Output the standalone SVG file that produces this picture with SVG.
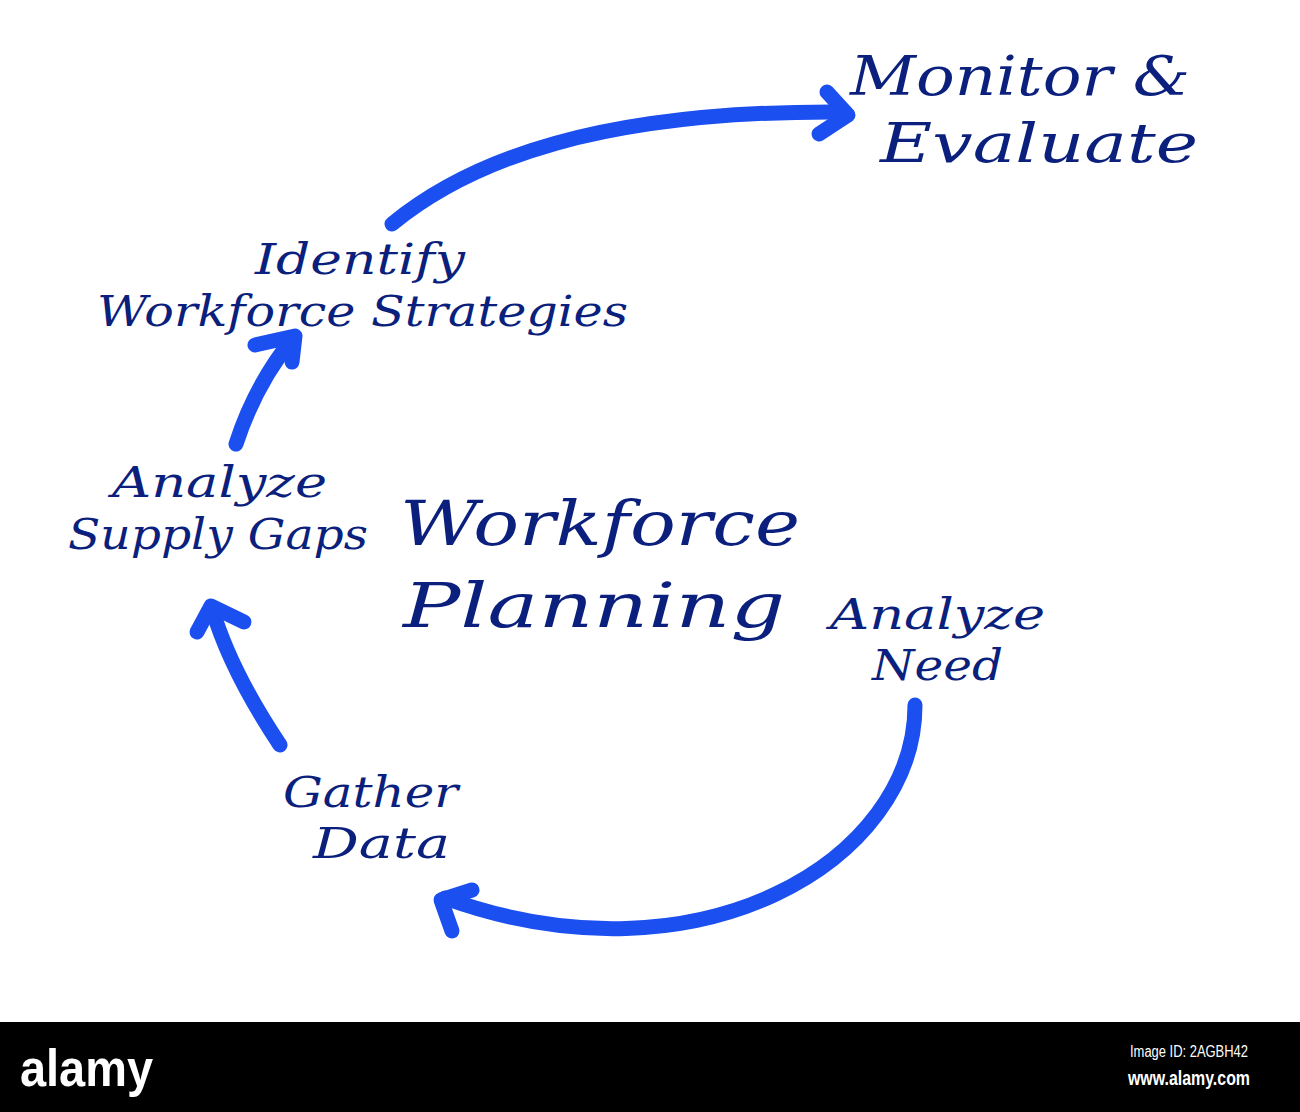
<svg xmlns="http://www.w3.org/2000/svg" width="1300" height="1112" viewBox="0 0 1300 1112">
<style>
.lbl{font-family:"DejaVu Serif","Liberation Serif",serif;font-style:italic;fill:#0b1f7d;}
.s{font-size:42px;}
.b{font-size:62px;}
.m{font-size:54px;}
.arr{fill:none;stroke:#1b4ff0;stroke-width:15;stroke-linecap:round;stroke-linejoin:round;}
</style>
<rect width="1300" height="1112" fill="#ffffff"/>
<g id="connectors">
<path class="arr" d="M392,224 C470,160 600,110 845,112"/>
<path class="arr" d="M827,92 L848,115 L819,134"/>
<path class="arr" d="M236,444 Q255,385 293,338"/>
<path class="arr" d="M255,345 L295,336 L292,362"/>
<path class="arr" d="M280,745 Q230,670 212,608"/>
<path class="arr" d="M197,632 L211,606 L244,622"/>
<path class="arr" d="M915,705 C915,860 700,990 445,898"/>
<path class="arr" d="M472,890 L441,900 L452,931"/>
</g>
<g id="node-monitor">
<text class="lbl m" x="850" y="95" textLength="340" lengthAdjust="spacingAndGlyphs">Monitor &amp;</text>
<text class="lbl m" x="880" y="162" textLength="318" lengthAdjust="spacingAndGlyphs">Evaluate</text>
</g>
<g id="node-identify">
<text class="lbl s" x="255" y="274" textLength="210" lengthAdjust="spacingAndGlyphs">Identify</text>
<text class="lbl s" x="97" y="326" textLength="531" lengthAdjust="spacingAndGlyphs">Workforce Strategies</text>
</g>
<g id="node-supply">
<text class="lbl s" x="112" y="497" textLength="215" lengthAdjust="spacingAndGlyphs">Analyze</text>
<text class="lbl s" x="68" y="549" textLength="300" lengthAdjust="spacingAndGlyphs">Supply Gaps</text>
</g>
<g id="node-center">
<text class="lbl b" x="400" y="545" textLength="400" lengthAdjust="spacingAndGlyphs">Workforce</text>
<text class="lbl b" x="403" y="627" textLength="382" lengthAdjust="spacingAndGlyphs">Planning</text>
</g>
<g id="node-need">
<text class="lbl s" x="830" y="629" textLength="215" lengthAdjust="spacingAndGlyphs">Analyze</text>
<text class="lbl s" x="872" y="680" textLength="131" lengthAdjust="spacingAndGlyphs">Need</text>
</g>
<g id="node-gather">
<text class="lbl s" x="283" y="807" textLength="175" lengthAdjust="spacingAndGlyphs">Gather</text>
<text class="lbl s" x="313" y="858" textLength="137" lengthAdjust="spacingAndGlyphs">Data</text>
</g>
<g id="watermark-bar">
<rect x="0" y="1022" width="1300" height="90" fill="#000000"/>
<text x="20" y="1086" font-family="Liberation Sans Narrow,Liberation Sans,sans-serif" font-weight="bold" font-size="52" fill="#ffffff" textLength="133" lengthAdjust="spacingAndGlyphs">alamy</text>
<text x="1130" y="1057" font-family="Liberation Sans,sans-serif" font-size="16" fill="#ffffff" textLength="118" lengthAdjust="spacingAndGlyphs">Image ID: 2AGBH42</text>
<text x="1128" y="1085" font-family="Liberation Sans,sans-serif" font-weight="bold" font-size="20" fill="#ffffff" textLength="122" lengthAdjust="spacingAndGlyphs">www.alamy.com</text>
</g>
</svg>
